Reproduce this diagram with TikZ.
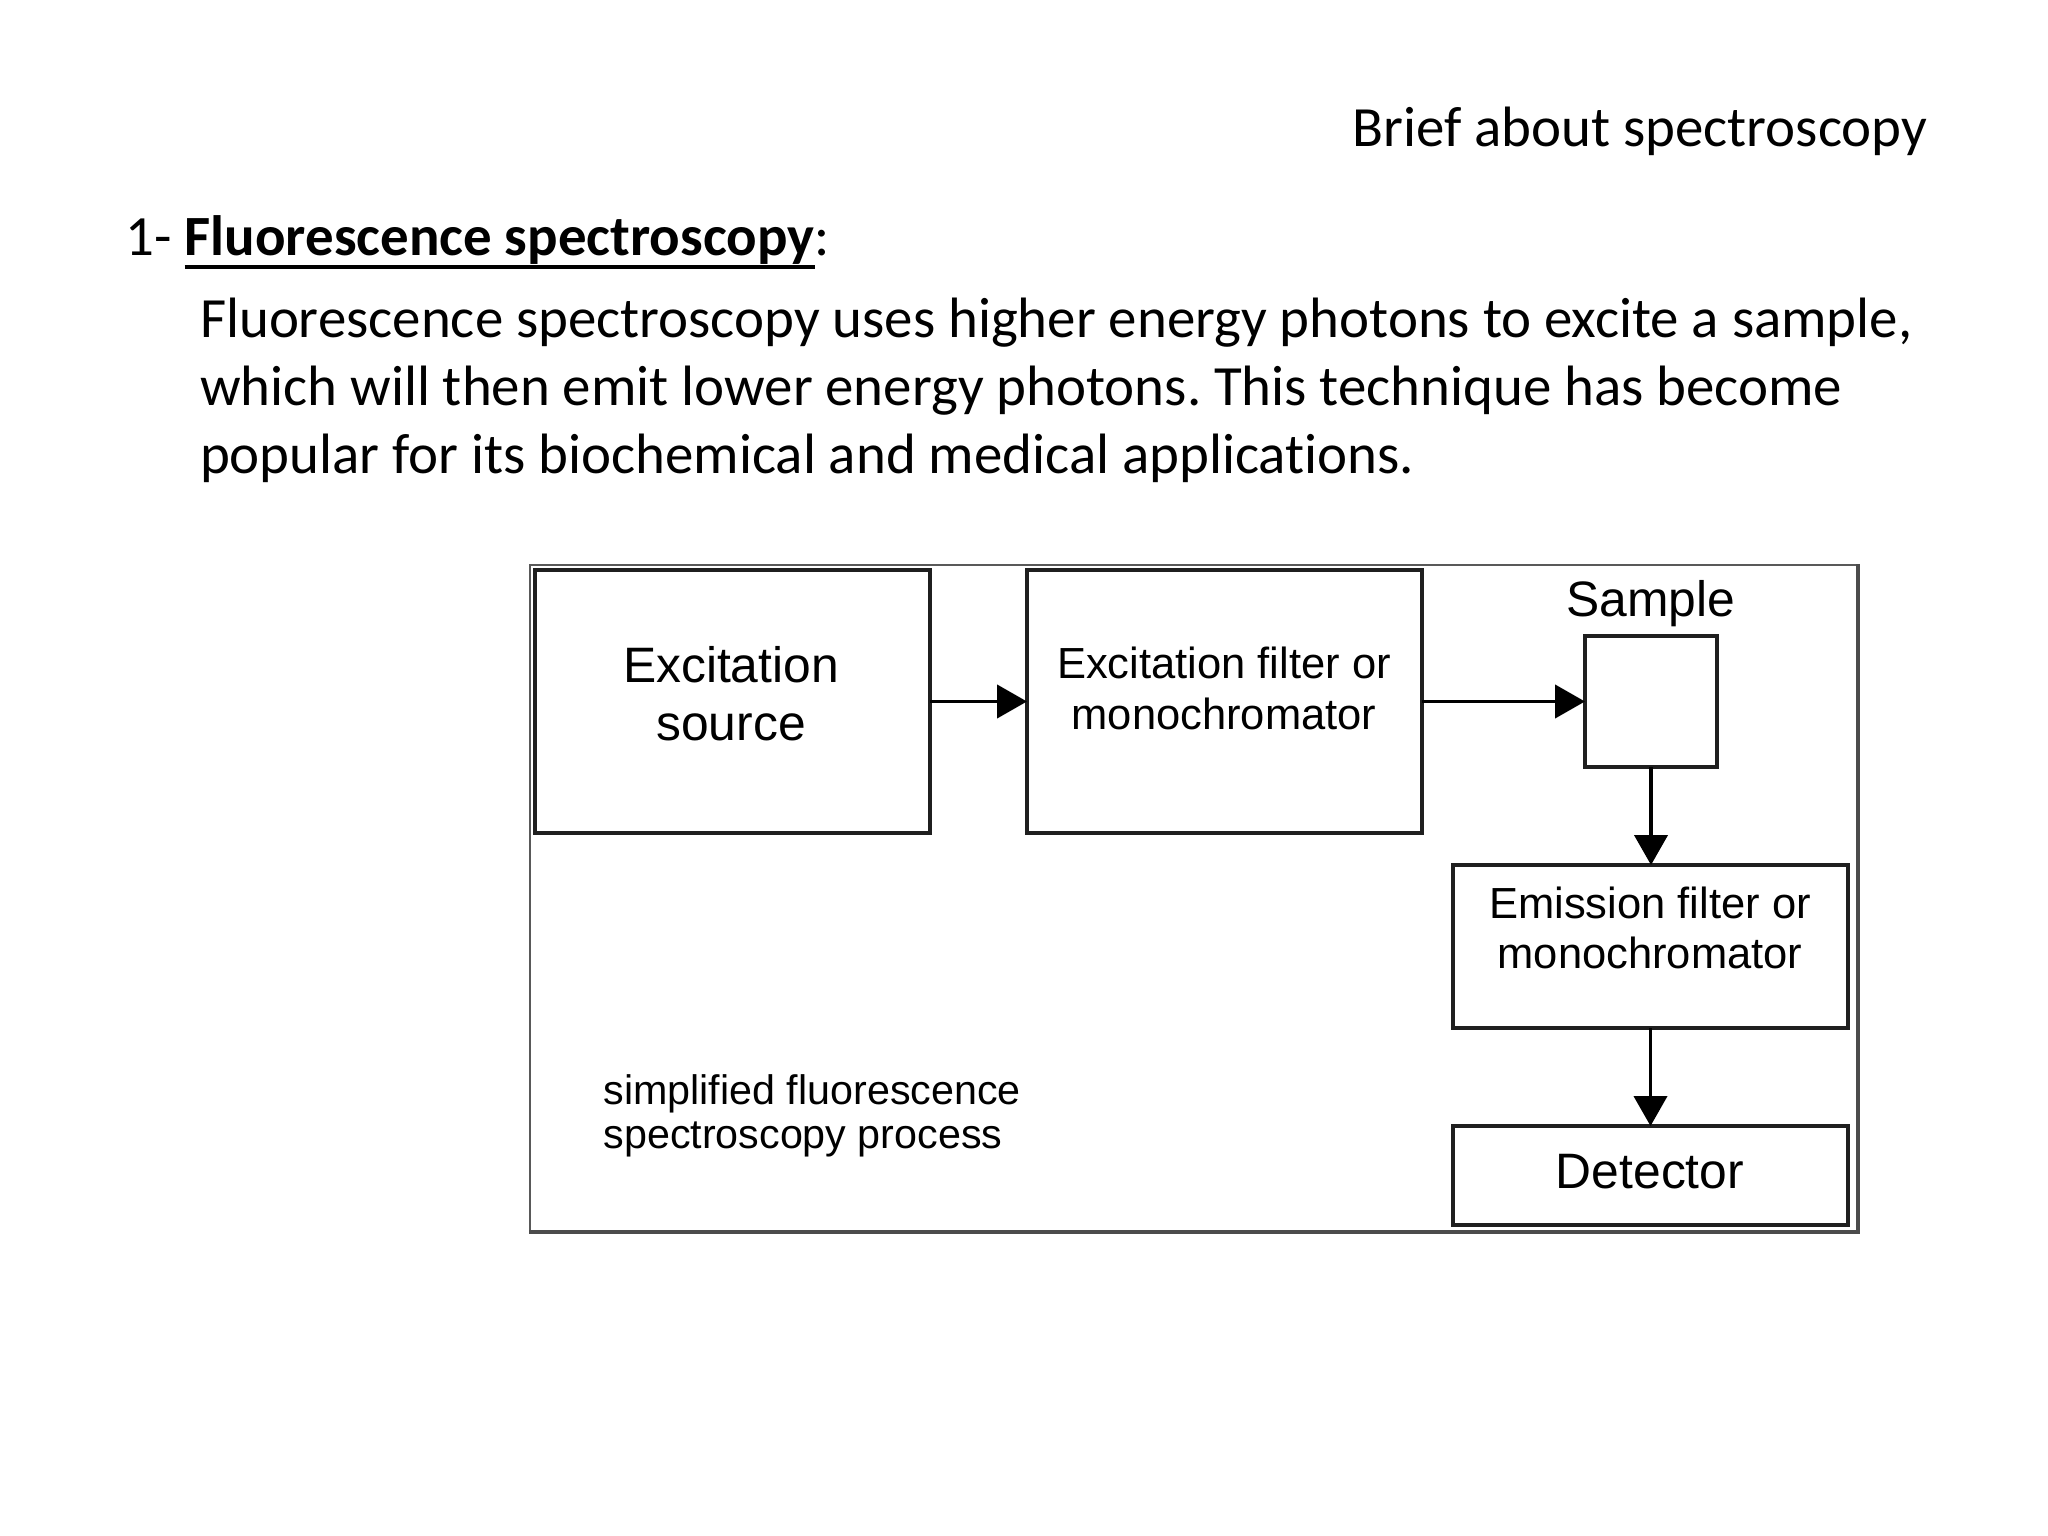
\documentclass[tikz,border=0pt]{standalone}
\usepackage{fontspec}
\setmainfont{Carlito}[Ligatures=NoCommon]
\newfontfamily\arialf{Liberation Sans}
\usetikzlibrary{arrows.meta,fit}
\frenchspacing
\begin{document}
\begin{tikzpicture}[x=0.3515625pt,y=-0.3515625pt,
  slide/.style={inner sep=0pt, outer sep=0pt, font=\fontsize{20}{24}\selectfont\frenchspacing},
  box/.style={draw=black!88, line width=1.15pt, inner sep=0pt, outer sep=0pt},
  big/.style={inner sep=0pt, font=\arialf\fontsize{17.5}{21}\selectfont},
  mid/.style={inner sep=0pt, font=\arialf\fontsize{15.3}{18}\selectfont},
  capt/.style={inner sep=0pt, font=\arialf\fontsize{14.5}{17}\selectfont},
  arr/.style={line width=1.35pt, draw=black, -{Triangle[width=11.6pt,length=10.5pt]}},
]
\useasboundingbox[fill=white] (0,0) rectangle (2048,1536);

% slide text
\node[slide, anchor=base east] (title) at (1927,147) {Brief about spectroscopy};
\node[slide, anchor=base west] (h1) at (125.6,256) {1-};
\node[slide, anchor=base west] (h2) at ([xshift=4.5pt]h1.base east) {\bfseries Fluorescence spectroscopy};
\node[slide, anchor=base west] (h3) at (h2.base east) {:};
\draw[line width=1.3pt] ([yshift=-3.8pt]h2.base west) -- ([yshift=-3.8pt]h2.base east);
\node[slide, anchor=base west] (l1) at (200,337.5) {Fluorescence spectroscopy uses higher energy photons to excite a sample,};
\node[slide, anchor=base west] (l2) at (200,405.5) {which will then emit lower energy photons. This technique has become};
\node[slide, anchor=base west] (l3) at (200,473.5) {popular for its biochemical and medical applications.};

% diagram frame
\node[fit={(530,565) (1857,1231)}, inner sep=0pt, draw=black!65, line width=0.8pt] (frame) {};
\draw[black!70, line width=1.5pt] (frame.north east) -- (frame.south east) -- (frame.south west);

% boxes
\node[box, fit={(535,570) (930,833)}] (b1) {};
\node[box, fit={(1027,570) (1422,833)}] (b2) {};
\node[box, fit={(1585,636) (1717,767)}] (smp) {};
\node[box, fit={(1453,865) (1848,1028)}] (b4) {};
\node[box, fit={(1453,1126) (1848,1225)}] (b5) {};

% labels
\node[big, anchor=base] (t1a) at (731,683) {Excitation};
\node[big, anchor=base] (t1b) at (731,740) {source};
\node[mid, anchor=base] (t2a) at (1224,679) {Excitation filter or};
\node[mid, anchor=base] (t2b) at (1224,729) {monochromator};
\node[big, anchor=base] (ts) at (1651,617) {Sample};
\node[mid, anchor=base] (t4a) at (1650,918) {Emission filter or};
\node[mid, anchor=base] (t4b) at (1650,968) {monochromator};
\node[big, anchor=base] (t5) at (1650,1188) {Detector};
\node[capt, anchor=base west] (c1) at (603,1104) {simplified fluorescence};
\node[capt, anchor=base west] (c2) at (603,1148) {spectroscopy process};

% connectors
\draw[arr] (b1.east) -- (b2.west);
\draw[arr] (b2.east) -- (smp.west);
\draw[arr] (smp.south) -- (smp.south |- b4.north);
\draw[arr] (b4.south) -- (b5.north);
\end{tikzpicture}
\end{document}
